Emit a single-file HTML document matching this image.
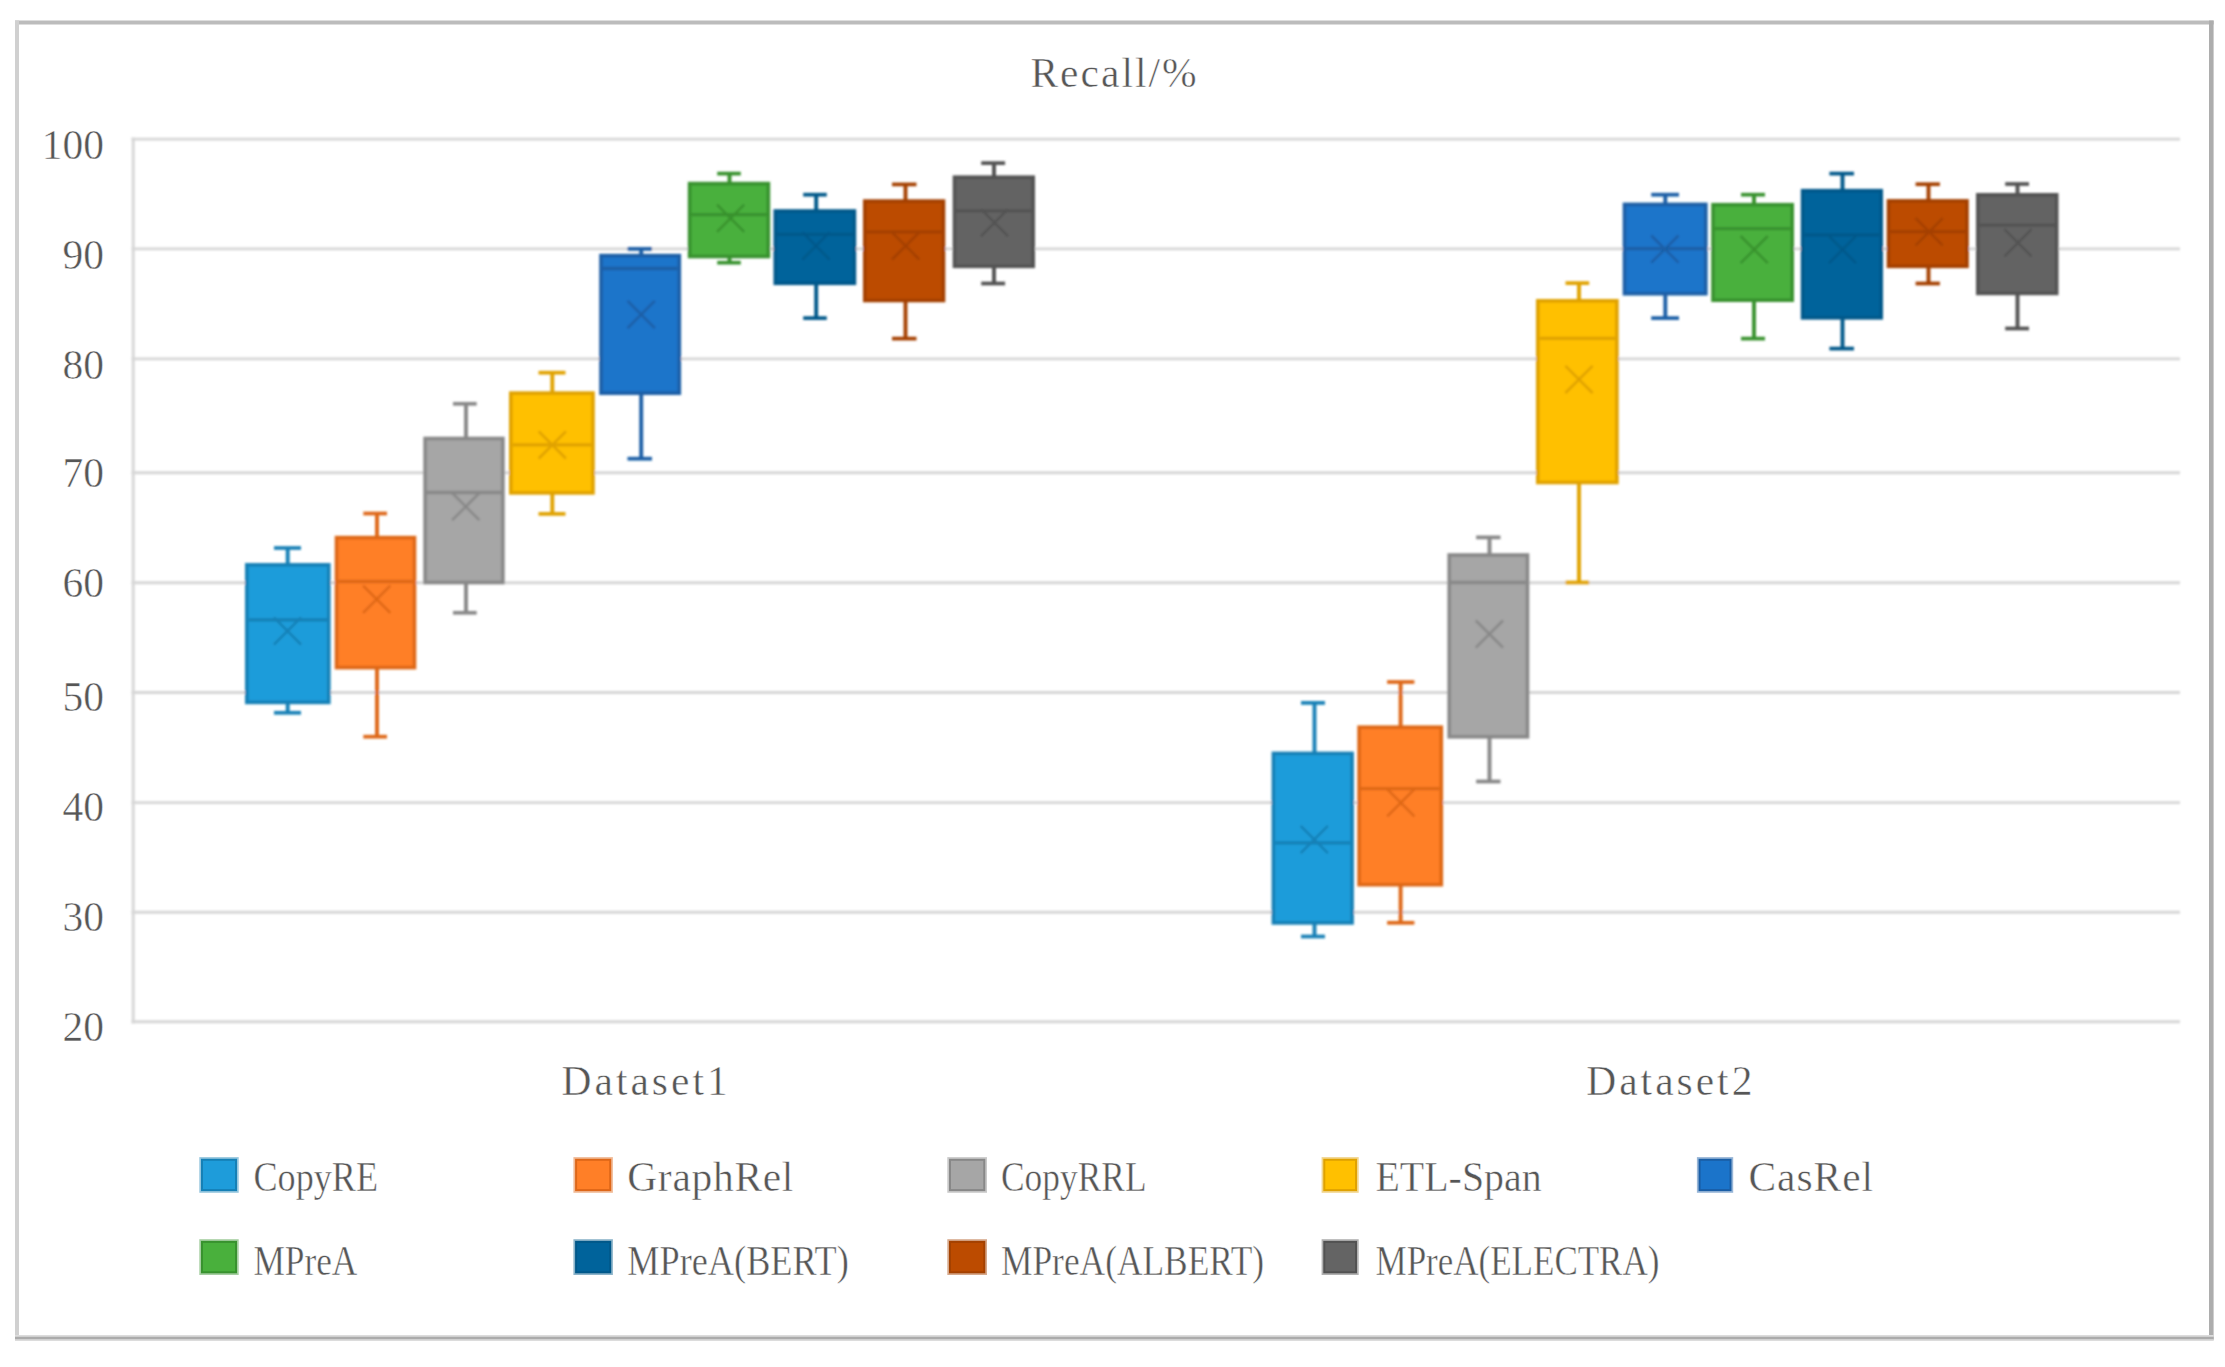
<!DOCTYPE html>
<html lang="en"><head><meta charset="utf-8"><title>Recall/%</title>
<style>html,body{margin:0;padding:0;background:#fff}svg{display:block}text{font-family:"Liberation Serif",serif;font-size:41.5px;fill:#565656;stroke:#fff;stroke-width:0.45px}</style></head><body>
<svg width="2225" height="1367" viewBox="0 0 2225 1367">
<defs><filter id="soft" x="0" y="0" width="2225" height="1367" filterUnits="userSpaceOnUse"><feGaussianBlur stdDeviation="0.8"/></filter></defs>
<rect x="0" y="0" width="2225" height="1367" fill="#fff"/>
<g fill="none" stroke-linecap="butt">
<line x1="15" y1="22.5" x2="2213.7" y2="22.5" stroke="#bcbcbc" stroke-width="3.8"/>
<line x1="17" y1="20.6" x2="17" y2="1340" stroke="#d0d0d0" stroke-width="4"/>
<line x1="2211.3" y1="20.6" x2="2211.3" y2="1340" stroke="#adadad" stroke-width="4.6"/>
<line x1="15" y1="1338" x2="2213.7" y2="1338" stroke="#dcdcdc" stroke-width="6"/>
<line x1="15" y1="1338" x2="2213.7" y2="1338" stroke="#ababab" stroke-width="2.6"/>
</g>
<g filter="url(#soft)">
<g stroke="#d6d6d6" stroke-width="2.9">
<line x1="131.5" y1="139.1" x2="2180" y2="139.1"/>
<line x1="131.5" y1="248.9" x2="2180" y2="248.9"/>
<line x1="131.5" y1="358.9" x2="2180" y2="358.9"/>
<line x1="131.5" y1="472.8" x2="2180" y2="472.8"/>
<line x1="131.5" y1="582.8" x2="2180" y2="582.8"/>
<line x1="131.5" y1="692.5" x2="2180" y2="692.5"/>
<line x1="131.5" y1="802.6" x2="2180" y2="802.6"/>
<line x1="131.5" y1="912.2" x2="2180" y2="912.2"/>
<line x1="131.5" y1="1021.8" x2="2180" y2="1021.8"/>
<line x1="133.2" y1="137.4" x2="133.2" y2="1023.5"/>
</g>
<g stroke="#1580B6" fill="none">
<line x1="287.7" y1="548.0" x2="287.7" y2="564.0" stroke-width="3.9"/>
<line x1="287.7" y1="703.2" x2="287.7" y2="712.8" stroke-width="3.9"/>
<line x1="274.0" y1="548.0" x2="301.0" y2="548.0" stroke-width="3.7"/>
<line x1="274.0" y1="712.8" x2="301.0" y2="712.8" stroke-width="3.7"/>
<rect x="246.80" y="564.80" width="82.00" height="137.60" fill="#1E9CDA" stroke-width="3.6"/>
<line x1="248.6" y1="619.9" x2="327.0" y2="619.9" stroke-width="3.3"/>
<path d="M273.9 617.4L301.1 644.6M273.9 644.6L301.1 617.4" stroke-width="2.5"/>
</g>
<g stroke="#DE6718" fill="none">
<line x1="377.0" y1="513.5" x2="377.0" y2="536.8" stroke-width="3.9"/>
<line x1="377.0" y1="668.4" x2="377.0" y2="736.7" stroke-width="3.9"/>
<line x1="363.3" y1="513.5" x2="387.0" y2="513.5" stroke-width="3.7"/>
<line x1="363.3" y1="736.7" x2="387.0" y2="736.7" stroke-width="3.7"/>
<rect x="336.50" y="537.60" width="78.00" height="130.00" fill="#FF7F27" stroke-width="3.6"/>
<line x1="338.3" y1="581.5" x2="412.7" y2="581.5" stroke-width="3.3"/>
<path d="M363.1 585.6L390.3 612.8M363.1 612.8L390.3 585.6" stroke-width="2.5"/>
</g>
<g stroke="#888888" fill="none">
<line x1="466.0" y1="403.8" x2="466.0" y2="437.7" stroke-width="3.9"/>
<line x1="466.0" y1="583.3" x2="466.0" y2="612.8" stroke-width="3.9"/>
<line x1="453.0" y1="403.8" x2="476.7" y2="403.8" stroke-width="3.7"/>
<line x1="453.0" y1="612.8" x2="476.7" y2="612.8" stroke-width="3.7"/>
<rect x="425.10" y="438.50" width="77.80" height="144.00" fill="#A6A6A6" stroke-width="3.6"/>
<line x1="426.9" y1="492.5" x2="501.1" y2="492.5" stroke-width="3.3"/>
<path d="M452.2 493.0L479.4 520.2M452.2 520.2L479.4 493.0" stroke-width="2.5"/>
</g>
<g stroke="#E0A200" fill="none">
<line x1="552.3" y1="372.7" x2="552.3" y2="392.3" stroke-width="3.9"/>
<line x1="552.3" y1="493.7" x2="552.3" y2="513.9" stroke-width="3.9"/>
<line x1="538.5" y1="372.7" x2="565.5" y2="372.7" stroke-width="3.7"/>
<line x1="538.5" y1="513.9" x2="565.5" y2="513.9" stroke-width="3.7"/>
<rect x="510.80" y="393.10" width="82.20" height="99.80" fill="#FFC000" stroke-width="3.6"/>
<line x1="512.6" y1="444.9" x2="591.2" y2="444.9" stroke-width="3.3"/>
<path d="M538.7 431.3L565.9 458.5M538.7 458.5L565.9 431.3" stroke-width="2.5"/>
</g>
<g stroke="#1A5EA6" fill="none">
<line x1="641.2" y1="248.9" x2="641.2" y2="254.8" stroke-width="3.9"/>
<line x1="641.2" y1="394.0" x2="641.2" y2="458.7" stroke-width="3.9"/>
<line x1="627.5" y1="248.9" x2="652.0" y2="248.9" stroke-width="3.7"/>
<line x1="627.5" y1="458.7" x2="652.0" y2="458.7" stroke-width="3.7"/>
<rect x="601.00" y="255.60" width="78.30" height="137.60" fill="#1B74CA" stroke-width="3.6"/>
<line x1="602.8" y1="268.5" x2="677.5" y2="268.5" stroke-width="3.3"/>
<path d="M627.6 300.9L654.8 328.1M627.6 328.1L654.8 300.9" stroke-width="2.5"/>
</g>
<g stroke="#38922E" fill="none">
<line x1="729.5" y1="173.6" x2="729.5" y2="182.8" stroke-width="3.9"/>
<line x1="729.5" y1="257.3" x2="729.5" y2="262.7" stroke-width="3.9"/>
<line x1="717.2" y1="173.6" x2="740.8" y2="173.6" stroke-width="3.7"/>
<line x1="717.2" y1="262.7" x2="740.8" y2="262.7" stroke-width="3.7"/>
<rect x="689.60" y="183.60" width="78.80" height="72.90" fill="#49B03C" stroke-width="3.6"/>
<line x1="691.4" y1="214.6" x2="766.6" y2="214.6" stroke-width="3.3"/>
<path d="M717.0 204.6L744.2 231.8M717.0 231.8L744.2 204.6" stroke-width="2.5"/>
</g>
<g stroke="#00588A" fill="none">
<line x1="816.2" y1="194.7" x2="816.2" y2="210.2" stroke-width="3.9"/>
<line x1="816.2" y1="284.1" x2="816.2" y2="318.1" stroke-width="3.9"/>
<line x1="803.2" y1="194.7" x2="826.8" y2="194.7" stroke-width="3.7"/>
<line x1="803.2" y1="318.1" x2="826.8" y2="318.1" stroke-width="3.7"/>
<rect x="775.30" y="211.00" width="79.10" height="72.30" fill="#00639B" stroke-width="3.6"/>
<line x1="777.1" y1="234.4" x2="852.6" y2="234.4" stroke-width="3.3"/>
<path d="M802.4 232.3L829.6 259.5M802.4 259.5L829.6 232.3" stroke-width="2.5"/>
</g>
<g stroke="#A44100" fill="none">
<line x1="905.5" y1="184.4" x2="905.5" y2="200.3" stroke-width="3.9"/>
<line x1="905.5" y1="301.3" x2="905.5" y2="338.6" stroke-width="3.9"/>
<line x1="892.0" y1="184.4" x2="916.5" y2="184.4" stroke-width="3.7"/>
<line x1="892.0" y1="338.6" x2="916.5" y2="338.6" stroke-width="3.7"/>
<rect x="864.80" y="201.10" width="78.70" height="99.40" fill="#BC4B00" stroke-width="3.6"/>
<line x1="866.6" y1="231.9" x2="941.7" y2="231.9" stroke-width="3.3"/>
<path d="M892.1 232.3L919.3 259.5M892.1 259.5L919.3 232.3" stroke-width="2.5"/>
</g>
<g stroke="#525252" fill="none">
<line x1="994.0" y1="163.1" x2="994.0" y2="176.4" stroke-width="3.9"/>
<line x1="994.0" y1="267.1" x2="994.0" y2="283.5" stroke-width="3.9"/>
<line x1="981.2" y1="163.1" x2="1005.1" y2="163.1" stroke-width="3.7"/>
<line x1="981.2" y1="283.5" x2="1005.1" y2="283.5" stroke-width="3.7"/>
<rect x="954.50" y="177.20" width="78.70" height="89.10" fill="#646464" stroke-width="3.6"/>
<line x1="956.3" y1="210.9" x2="1031.4" y2="210.9" stroke-width="3.3"/>
<path d="M980.9 209.2L1008.1 236.4M980.9 236.4L1008.1 209.2" stroke-width="2.5"/>
</g>
<g stroke="#1580B6" fill="none">
<line x1="1314.5" y1="702.9" x2="1314.5" y2="752.6" stroke-width="3.9"/>
<line x1="1314.5" y1="923.7" x2="1314.5" y2="936.5" stroke-width="3.9"/>
<line x1="1301.0" y1="702.9" x2="1325.0" y2="702.9" stroke-width="3.7"/>
<line x1="1301.0" y1="936.5" x2="1325.0" y2="936.5" stroke-width="3.7"/>
<rect x="1273.40" y="753.40" width="78.70" height="169.50" fill="#1E9CDA" stroke-width="3.6"/>
<line x1="1275.2" y1="842.9" x2="1350.3" y2="842.9" stroke-width="3.3"/>
<path d="M1300.7 825.9L1327.9 853.1M1300.7 853.1L1327.9 825.9" stroke-width="2.5"/>
</g>
<g stroke="#DE6718" fill="none">
<line x1="1400.6" y1="682.0" x2="1400.6" y2="726.4" stroke-width="3.9"/>
<line x1="1400.6" y1="885.5" x2="1400.6" y2="922.8" stroke-width="3.9"/>
<line x1="1387.1" y1="682.0" x2="1414.4" y2="682.0" stroke-width="3.7"/>
<line x1="1387.1" y1="922.8" x2="1414.4" y2="922.8" stroke-width="3.7"/>
<rect x="1359.10" y="727.20" width="82.20" height="157.50" fill="#FF7F27" stroke-width="3.6"/>
<line x1="1360.9" y1="788.6" x2="1439.5" y2="788.6" stroke-width="3.3"/>
<path d="M1387.2 789.2L1414.4 816.4M1387.2 816.4L1414.4 789.2" stroke-width="2.5"/>
</g>
<g stroke="#888888" fill="none">
<line x1="1489.5" y1="537.4" x2="1489.5" y2="554.2" stroke-width="3.9"/>
<line x1="1489.5" y1="737.6" x2="1489.5" y2="781.5" stroke-width="3.9"/>
<line x1="1476.1" y1="537.4" x2="1500.5" y2="537.4" stroke-width="3.7"/>
<line x1="1476.1" y1="781.5" x2="1500.5" y2="781.5" stroke-width="3.7"/>
<rect x="1449.20" y="555.00" width="78.30" height="181.80" fill="#A6A6A6" stroke-width="3.6"/>
<line x1="1451.0" y1="582.5" x2="1525.7" y2="582.5" stroke-width="3.3"/>
<path d="M1475.8 620.5L1503.0 647.7M1475.8 647.7L1503.0 620.5" stroke-width="2.5"/>
</g>
<g stroke="#E0A200" fill="none">
<line x1="1579.0" y1="283.1" x2="1579.0" y2="300.0" stroke-width="3.9"/>
<line x1="1579.0" y1="483.3" x2="1579.0" y2="582.5" stroke-width="3.9"/>
<line x1="1565.5" y1="283.1" x2="1589.2" y2="283.1" stroke-width="3.7"/>
<line x1="1565.5" y1="582.5" x2="1589.2" y2="582.5" stroke-width="3.7"/>
<rect x="1537.80" y="300.80" width="79.10" height="181.70" fill="#FFC000" stroke-width="3.6"/>
<line x1="1539.6" y1="338.3" x2="1615.1" y2="338.3" stroke-width="3.3"/>
<path d="M1565.4 365.8L1592.6 393.0M1565.4 393.0L1592.6 365.8" stroke-width="2.5"/>
</g>
<g stroke="#1A5EA6" fill="none">
<line x1="1665.3" y1="194.7" x2="1665.3" y2="203.6" stroke-width="3.9"/>
<line x1="1665.3" y1="294.5" x2="1665.3" y2="318.1" stroke-width="3.9"/>
<line x1="1651.2" y1="194.7" x2="1679.0" y2="194.7" stroke-width="3.7"/>
<line x1="1651.2" y1="318.1" x2="1679.0" y2="318.1" stroke-width="3.7"/>
<rect x="1624.50" y="204.40" width="81.30" height="89.30" fill="#1B74CA" stroke-width="3.6"/>
<line x1="1626.3" y1="248.7" x2="1704.0" y2="248.7" stroke-width="3.3"/>
<path d="M1651.3 235.5L1678.5 262.7M1651.3 262.7L1678.5 235.5" stroke-width="2.5"/>
</g>
<g stroke="#38922E" fill="none">
<line x1="1754.0" y1="194.7" x2="1754.0" y2="203.9" stroke-width="3.9"/>
<line x1="1754.0" y1="301.0" x2="1754.0" y2="338.6" stroke-width="3.9"/>
<line x1="1741.0" y1="194.7" x2="1765.0" y2="194.7" stroke-width="3.7"/>
<line x1="1741.0" y1="338.6" x2="1765.0" y2="338.6" stroke-width="3.7"/>
<rect x="1713.00" y="204.70" width="79.20" height="95.50" fill="#49B03C" stroke-width="3.6"/>
<line x1="1714.8" y1="228.6" x2="1790.4" y2="228.6" stroke-width="3.3"/>
<path d="M1740.6 236.0L1767.8 263.2M1740.6 263.2L1767.8 236.0" stroke-width="2.5"/>
</g>
<g stroke="#00588A" fill="none">
<line x1="1842.5" y1="173.6" x2="1842.5" y2="189.9" stroke-width="3.9"/>
<line x1="1842.5" y1="318.6" x2="1842.5" y2="348.6" stroke-width="3.9"/>
<line x1="1829.4" y1="173.6" x2="1854.0" y2="173.6" stroke-width="3.7"/>
<line x1="1829.4" y1="348.6" x2="1854.0" y2="348.6" stroke-width="3.7"/>
<rect x="1802.60" y="190.70" width="78.60" height="127.10" fill="#00639B" stroke-width="3.6"/>
<line x1="1804.4" y1="234.9" x2="1879.4" y2="234.9" stroke-width="3.3"/>
<path d="M1828.9 236.0L1856.1 263.2M1828.9 263.2L1856.1 236.0" stroke-width="2.5"/>
</g>
<g stroke="#A44100" fill="none">
<line x1="1928.5" y1="184.2" x2="1928.5" y2="200.1" stroke-width="3.9"/>
<line x1="1928.5" y1="267.1" x2="1928.5" y2="283.5" stroke-width="3.9"/>
<line x1="1915.6" y1="184.2" x2="1939.9" y2="184.2" stroke-width="3.7"/>
<line x1="1915.6" y1="283.5" x2="1939.9" y2="283.5" stroke-width="3.7"/>
<rect x="1888.50" y="200.90" width="78.50" height="65.40" fill="#BC4B00" stroke-width="3.6"/>
<line x1="1890.3" y1="231.6" x2="1965.2" y2="231.6" stroke-width="3.3"/>
<path d="M1915.5 218.2L1942.7 245.4M1915.5 245.4L1942.7 218.2" stroke-width="2.5"/>
</g>
<g stroke="#525252" fill="none">
<line x1="2017.5" y1="184.0" x2="2017.5" y2="194.0" stroke-width="3.9"/>
<line x1="2017.5" y1="294.2" x2="2017.5" y2="328.5" stroke-width="3.9"/>
<line x1="2005.2" y1="184.0" x2="2029.0" y2="184.0" stroke-width="3.7"/>
<line x1="2005.2" y1="328.5" x2="2029.0" y2="328.5" stroke-width="3.7"/>
<rect x="1977.80" y="194.80" width="78.90" height="98.60" fill="#646464" stroke-width="3.6"/>
<line x1="1979.6" y1="225.1" x2="2054.9" y2="225.1" stroke-width="3.3"/>
<path d="M2004.4 229.1L2031.6 256.3M2004.4 256.3L2031.6 229.1" stroke-width="2.5"/>
</g>
</g>
<rect x="199.3" y="1157.1" width="39.4" height="35.7" fill="#1580B6" fill-opacity="0.45"/>
<rect x="202.0" y="1159.8" width="34.0" height="30.3" fill="#1E9CDA" stroke="#1580B6" stroke-width="2"/>
<rect x="573.4" y="1157.1" width="39.5" height="35.7" fill="#DE6718" fill-opacity="0.45"/>
<rect x="576.1" y="1159.8" width="34.1" height="30.3" fill="#FF7F27" stroke="#DE6718" stroke-width="2"/>
<rect x="947.3" y="1157.1" width="39.7" height="35.7" fill="#888888" fill-opacity="0.45"/>
<rect x="950.0" y="1159.8" width="34.3" height="30.3" fill="#A6A6A6" stroke="#888888" stroke-width="2"/>
<rect x="1321.6" y="1157.1" width="37.1" height="35.7" fill="#E0A200" fill-opacity="0.45"/>
<rect x="1324.3" y="1159.8" width="31.7" height="30.3" fill="#FFC000" stroke="#E0A200" stroke-width="2"/>
<rect x="1696.9" y="1157.1" width="36.3" height="35.7" fill="#1A5EA6" fill-opacity="0.45"/>
<rect x="1699.6" y="1159.8" width="30.9" height="30.3" fill="#1B74CA" stroke="#1A5EA6" stroke-width="2"/>
<rect x="199.3" y="1239.2" width="39.4" height="35.8" fill="#38922E" fill-opacity="0.45"/>
<rect x="202.0" y="1241.9" width="34.0" height="30.4" fill="#49B03C" stroke="#38922E" stroke-width="2"/>
<rect x="573.4" y="1239.2" width="39.5" height="35.8" fill="#00588A" fill-opacity="0.45"/>
<rect x="576.1" y="1241.9" width="34.1" height="30.4" fill="#00639B" stroke="#00588A" stroke-width="2"/>
<rect x="947.3" y="1239.2" width="39.7" height="35.8" fill="#A44100" fill-opacity="0.45"/>
<rect x="950.0" y="1241.9" width="34.3" height="30.4" fill="#BC4B00" stroke="#A44100" stroke-width="2"/>
<rect x="1321.6" y="1239.2" width="37.1" height="35.8" fill="#525252" fill-opacity="0.45"/>
<rect x="1324.3" y="1241.9" width="31.7" height="30.4" fill="#646464" stroke="#525252" stroke-width="2"/>
<text x="1030.4" y="86.8" textLength="166.2" lengthAdjust="spacing">Recall/%</text>
<text x="41.7" y="158.9" textLength="62.3" lengthAdjust="spacing">100</text>
<text x="62.4" y="268.7" textLength="41.6" lengthAdjust="spacing">90</text>
<text x="62.4" y="379.4" textLength="41.6" lengthAdjust="spacing">80</text>
<text x="62.4" y="486.8" textLength="41.6" lengthAdjust="spacing">70</text>
<text x="62.4" y="596.9" textLength="41.6" lengthAdjust="spacing">60</text>
<text x="62.4" y="710.5" textLength="41.6" lengthAdjust="spacing">50</text>
<text x="62.4" y="820.6" textLength="41.6" lengthAdjust="spacing">40</text>
<text x="62.4" y="930.9" textLength="41.6" lengthAdjust="spacing">30</text>
<text x="62.4" y="1040.9" textLength="41.6" lengthAdjust="spacing">20</text>
<text x="561.5" y="1095.0" textLength="166.2" lengthAdjust="spacing">Dataset1</text>
<text x="1586.2" y="1095.0" textLength="166.2" lengthAdjust="spacing">Dataset2</text>
<text x="253.4" y="1191.2" textLength="124.7" lengthAdjust="spacingAndGlyphs">CopyRE</text>
<text x="627.2" y="1191.2" textLength="166.2" lengthAdjust="spacing">GraphRel</text>
<text x="1001.0" y="1191.2" textLength="145.5" lengthAdjust="spacingAndGlyphs">CopyRRL</text>
<text x="1375.5" y="1191.2" textLength="166.2" lengthAdjust="spacingAndGlyphs">ETL-Span</text>
<text x="1748.4" y="1191.2" textLength="124.7" lengthAdjust="spacing">CasRel</text>
<text x="253.4" y="1274.6" textLength="103.9" lengthAdjust="spacingAndGlyphs">MPreA</text>
<text x="627.2" y="1274.6" textLength="221.6" lengthAdjust="spacingAndGlyphs">MPreA(BERT)</text>
<text x="1001.0" y="1274.6" textLength="263.1" lengthAdjust="spacingAndGlyphs">MPreA(ALBERT)</text>
<text x="1375.5" y="1274.6" textLength="283.9" lengthAdjust="spacingAndGlyphs">MPreA(ELECTRA)</text>
</svg></body></html>
